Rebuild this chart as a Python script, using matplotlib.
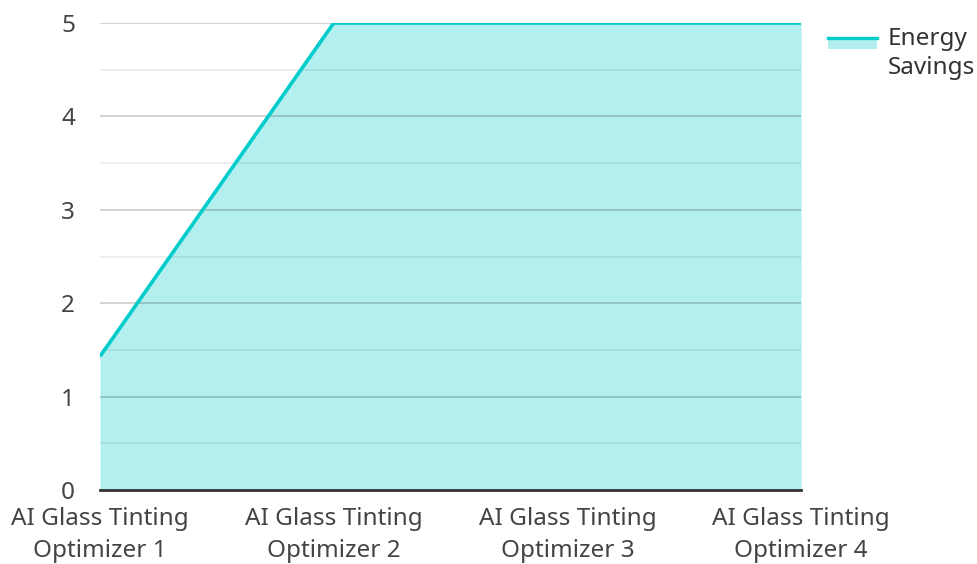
import numpy as np
import matplotlib.pyplot as plt
from matplotlib.patches import Patch, Rectangle
from matplotlib.lines import Line2D
from matplotlib.legend_handler import HandlerBase

plt.rcParams['font.family'] = ['Noto Sans', 'DejaVu Sans']

# chart data
categories = ['AI Glass Tinting\nOptimizer 1', 'AI Glass Tinting\nOptimizer 2',
              'AI Glass Tinting\nOptimizer 3', 'AI Glass Tinting\nOptimizer 4']
energy_savings = [1.43, 5, 5, 5]
series_name = 'Energy\nSavings'

line_col = '#00cccc'
fill_col = '#b2efee'


class AreaHandler(HandlerBase):
    # line on top, filled block underneath
    def create_artists(self, legend, orig, xd, yd, w, h, fontsize, trans):
        top = yd + h * 1.45
        rect = Rectangle((xd, top - h * 0.65), w, h * 0.65,
                         facecolor=fill_col, edgecolor='none', transform=trans)
        ln = Line2D([xd, xd + w], [top, top], color=line_col, lw=2.4, transform=trans)
        return [rect, ln]


fig = plt.figure(figsize=(9.78, 5.64), dpi=100)
ax = fig.add_axes([0.1022, 0.1312, 0.717, 0.828])

x = np.arange(len(categories))
ax.fill_between(x, energy_savings, 0, color=fill_col, lw=0, zorder=1)
ax.plot(x, energy_savings, color=line_col, lw=2.6, zorder=3, solid_capstyle='butt')

ax.set_xlim(0, len(categories) - 1)
ax.set_ylim(0, 5)
ax.set_yticks(range(0, 6))
ax.set_xticks(x)
ax.set_xticklabels(categories, linespacing=1.45)

# gridlines drawn over the fill
for v in range(1, 6):
    ax.axhline(v, color='#000000', alpha=0.2, lw=1.2, zorder=2)
for v in np.arange(0.5, 5, 1):
    ax.axhline(v, color='#000000', alpha=0.08, lw=1.2, zorder=2)

for s in ['top', 'right', 'left']:
    ax.spines[s].set_visible(False)
ax.spines['bottom'].set_color('#333333')
ax.spines['bottom'].set_linewidth(2)
ax.spines['bottom'].set_zorder(4)

ax.tick_params(axis='both', which='both', length=0, labelsize=17.5, colors='#444444')
ax.tick_params(axis='y', pad=18)
ax.tick_params(axis='x', pad=12)

leg = fig.legend([Patch()], [series_name], handler_map={Patch: AreaHandler()},
                 loc='upper left', bbox_to_anchor=(0.8466, 0.953),
                 borderaxespad=0, borderpad=0,
                 frameon=False, fontsize=17.5, handlelength=2.0, handletextpad=0.45,
                 labelcolor='#333333')
for t in leg.get_texts():
    t.set_linespacing(1.32)

fig.savefig('out.png', dpi=100)
